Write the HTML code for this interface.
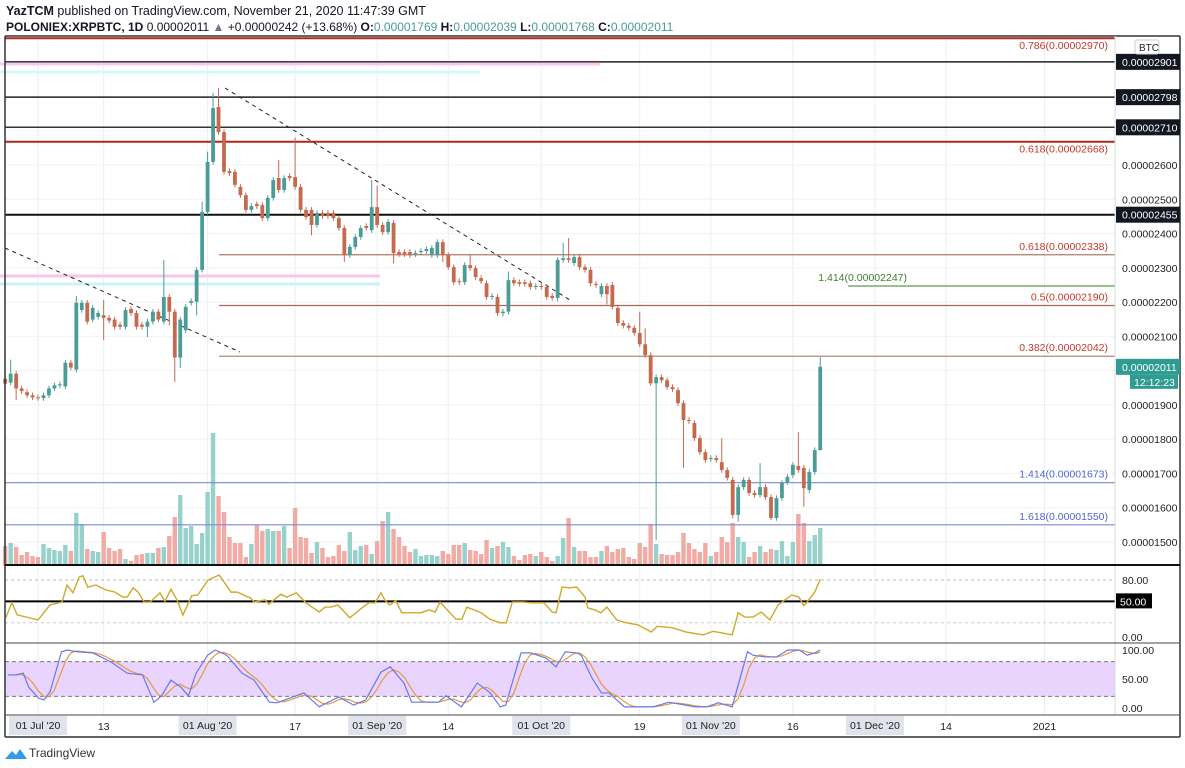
<!DOCTYPE html>
<html><head><meta charset="utf-8">
<style>
html,body{margin:0;padding:0;background:#fff;}
body{width:1185px;height:768px;overflow:hidden;font-family:"Liberation Sans",sans-serif;}
svg{display:block;}
</style></head>
<body>
<svg id="chart" width="1185" height="768" xmlns="http://www.w3.org/2000/svg" font-family="Liberation Sans, sans-serif">
<text x="6" y="15" font-size="12.5" fill="#131722"><tspan font-weight="bold">YazTCM</tspan> published on TradingView.com, November 21, 2020 11:47:39 GMT</text>
<text x="6" y="31" font-size="12" fill="#131722"><tspan font-weight="bold">POLONIEX:XRPBTC, 1D</tspan> 0.00002011 <tspan fill="#6c7889">▲</tspan> +0.00000242 (+13.68%) <tspan font-weight="bold">O:</tspan><tspan fill="#4c9a9a">0.00001769</tspan> <tspan font-weight="bold">H:</tspan><tspan fill="#4c9a9a">0.00002039</tspan> <tspan font-weight="bold">L:</tspan><tspan fill="#4c9a9a">0.00001768</tspan> <tspan font-weight="bold">C:</tspan><tspan fill="#4c9a9a">0.00002011</tspan></text>
<g id="grid"></g>
<g id="vol"></g>
<g id="levels"></g>
<g id="candles"></g>
<g id="ind"></g>
<g id="axes"></g>
<g>
<path d="M5 759 L12 751 L16 755 L20 749 L27 759 Z" fill="#2f9bea"/>
<text x="29" y="757" font-size="12" fill="#333">TradingView</text>
</g>
</svg>
<script>
// ---- data (prices in 1e-8 BTC) ----
const opens=[1976,1965,1991,1948,1937,1928,1922,1920,1928,1948,1957,1954,2023,2003,2177,
2198,2149,2157,2162,2154,2149,2134,2128,2180,2168,2134,2128,2143,2172,2143,
2215,2172,2038,2118,2198,2201,2294,2463,2609,2769,2696,2582,2580,2536,2512,
2469,2486,2483,2445,2504,2562,2527,2568,2565,2536,2469,2469,2425,2460,2460,
2460,2445,2416,2337,2361,2390,2422,2410,2477,2425,2404,2431,2346,2346,2346,
2340,2346,2349,2337,2337,2375,2337,2302,2261,2258,2308,2299,2270,2255,2215,
2215,2168,2172,2264,2258,2258,2255,2244,2247,2244,2218,2212,2323,2328,2314,
2331,2302,2294,2253,2223,2247,2250,2183,2139,2131,2125,2110,2077,2045,1963,
1981,1972,1952,1943,1905,1856,1847,1803,1762,1742,1745,1733,1710,1681,1579,
1660,1681,1643,1637,1660,1631,1570,1628,1675,1695,1722,1716,1652,1704,1768];
const closes=[1962,1991,1948,1940,1928,1922,1920,1928,1948,1957,1960,2023,2009,2198,2198,
2143,2183,2168,2154,2146,2128,2128,2177,2168,2128,2128,2143,2172,2149,2215,
2172,2038,2149,2186,2203,2294,2463,2609,2766,2696,2580,2576,2542,2512,2469,
2480,2480,2445,2504,2556,2527,2562,2562,2536,2469,2448,2425,2460,2451,2451,
2445,2416,2337,2361,2390,2416,2416,2477,2425,2404,2434,2343,2340,2340,2337,
2343,2349,2355,2358,2375,2337,2302,2258,2258,2308,2299,2273,2261,2215,2218,
2168,2172,2264,2255,2253,2253,2244,2247,2244,2215,2212,2323,2328,2323,2331,
2302,2294,2255,2250,2247,2223,2186,2139,2131,2125,2110,2077,2045,1963,1981,
1972,1952,1946,1905,1856,1853,1803,1762,1739,1745,1739,1710,1687,1579,1660,
1681,1643,1637,1660,1631,1570,1628,1672,1690,1725,1710,1657,1704,1768,2011];
const upperWicks=[8,41,8,8,8,8,8,8,8,8,8,8,8,20,8,
8,8,8,44,8,8,8,8,8,8,8,8,8,8,108,
8,8,8,8,8,8,30,30,44,56,8,8,8,8,8,
8,8,8,8,8,53,8,8,115,8,8,8,8,8,8,
8,8,8,8,8,8,8,79,63,8,8,8,8,8,8,
8,8,8,8,8,8,8,8,8,8,30,8,8,8,8,
8,8,25,8,8,8,8,8,8,8,8,8,45,59,8,
8,8,8,8,8,8,8,8,8,8,8,62,46,8,8,
8,8,8,8,8,8,8,8,8,8,8,70,8,8,8,
8,8,8,70,8,8,8,8,8,8,99,8,8,8,28];
const lowerWicks=[8,8,34,8,8,8,8,8,8,8,8,8,8,8,8,
8,8,8,65,8,8,8,8,8,8,8,30,8,8,8,
40,71,30,8,8,40,8,8,8,8,8,8,8,8,8,
8,8,8,8,8,8,8,8,8,8,8,30,8,8,8,
8,8,20,8,8,8,8,8,8,8,8,30,8,8,8,
8,8,8,8,8,20,8,8,8,8,8,8,8,8,8,
8,10,8,8,8,8,8,8,8,8,8,10,8,8,8,
8,8,8,8,8,30,8,8,8,8,8,8,8,8,457,
8,8,8,8,140,8,8,8,8,8,8,8,8,10,20,
8,8,8,8,8,6,8,8,8,8,8,54,9,8,1];
const volumes=[20,23,19,11,14,10,9,22,18,16,15,21,15,53,42,17,15,14,34,18,
15,17,7,5,11,12,13,13,18,19,30,49,71,38,40,22,33,74,133,70,
54,29,23,23,9,22,41,35,37,35,35,40,18,58,29,28,13,24,18,9,
10,21,15,34,16,20,21,12,25,45,54,37,29,20,14,17,
10,11,11,10,15,12,21,21,23,16,15,12,26,18,20,24,19,10,6,11,
12,10,14,9,5,10,28,48,19,15,15,9,9,15,20,14,17,18,9,7,
23,19,42,22,12,11,11,14,33,23,17,14,23,10,14,29,24,43,29,24,
9,14,20,14,17,16,25,10,24,52,43,25,31,38];
const rsiDays=[0.1,1.2,2.2,6,8.2,10.4,11.3,12.4,13.5,14.2,15.1,16.6,18.4,20.1,21.5,22.3,23.4,24.3,25.4,26.5,
28.3,29.2,30.3,31.4,32.5,34.1,35.2,37.1,39.1,41.3,42.4,44.8,45.5,47.5,48.2,50.4,51.5,53.2,55,57.4,
58.5,59.6,60.8,63,65.4,66.5,67.6,68.7,69.4,70.3,71.4,72.5,76,77.5,78.6,79.5,82.4,83.5,84.4,87,
88.6,90.5,91.6,92.7,94.7,96.1,98.5,100,100.7,101.8,103.1,104.5,106,
106.5,107.8,108.9,110,111.8,113.5,115.7,118.1,119.2,121.9,124.5,127.6,129.4,132.9,134,135.2,136.7,138.2,139.8,141.3,143.8,145.1,146,146.6,148,149];
const rsiVals=[27,48,31,24,45,49,73,62,84,86,70,73,66,63,56,56,69,63,49,49,
62,50,67,52,31,58,59,80,87,63,63,55,49,52,46,60,56,62,48,35,
42,42,45,27,42,48,48,62,52,45,51,34,34,38,35,49,25,25,42,34,
25,20,20,49,49,48,48,35,34,70,69,70,56,
41,38,34,42,24,20,17,7,15,13,7,3,8,3,34,28,28,35,24,45,59,56,44,49,63,81];
const stochDays=[0.5,1.9,3.3,4.3,6.1,7.1,8.2,10.3,11.4,13.1,16,19.4,22.3,25.1,27.2,28.6,30.3,32.1,33.5,34.9,
37,38.4,40.5,43.3,45.5,48.3,49.7,54.6,57.4,61,63.7,65.9,68.7,70.4,72.9,74.3,79.2,80.6,83.4,86.3,
88.7,90.5,91.5,94.3,96.1,98.9,100.7,102.4,104.5,105.3,107.2,109,110.4,111.8,113.2,118.5,121.3,126.2,128.3,130.4,
132.9,135.7,136.7,138.9,141,143.1,145.2,146.6,148,149];
const stochK=[57,57,60,36,17,14,28,97,100,97,95,79,60,57,10,21,48,36,21,60,
91,100,91,60,48,10,9,26,2,19,5,14,62,71,43,10,10,21,2,43,
26,2,5,95,95,86,71,97,95,91,53,26,26,14,2,2,10,2,2,9,
2,97,91,88,88,100,100,91,95,100];
const priceTicks=[2600,2500,2400,2300,2200,2100,1900,1800,1700,1600,1500];
const timeTickDays=[6,18,37,53,68,81,98,116,129,144,159,172,190];
const timeTickLabels=["01 Jul '20","13","01 Aug '20","17","01 Sep '20","14","01 Oct '20","19","01 Nov '20","16","01 Dec '20","14","2021"];
const timeTickBoxed=[1,0,1,0,1,0,1,0,1,0,1,0,0];
const levelPrices=[2970,2901,2798,2710,2668,2455,2338,2247,2190,2042,1673,1550];
const levelLabels=["0.786(0.00002970)","","","","0.618(0.00002668)","","0.618(0.00002338)","1.414(0.00002247)","0.5(0.00002190)","0.382(0.00002042)","1.414(0.00001673)","1.618(0.00001550)"];
const levelBoxed=[0,1,1,1,0,1,0,0,0,0,0,0];
const levelLabelBelow=[1,0,0,0,1,0,0,0,0,0,0,0];

// ---- scales ----
const NS="http://www.w3.org/2000/svg";
const xD=d=>5.2+d*5.47;
const yP=p=>165+(2600-p)*0.3427;
const yV=v=>566-v;
const yR=v=>637-v*0.7125;
const yS=v=>708-v*0.58;
const fmt=p=>"0.0000"+String(Math.round(p)).padStart(4,"0");
function mk(tag,attrs,parent,text){const e=document.createElementNS(NS,tag);for(const k in attrs)e.setAttribute(k,attrs[k]);if(text!==undefined)e.textContent=text;parent.appendChild(e);return e;}
const G=id=>document.getElementById(id);

// grid
const grid=G('grid');
for(let p=1500;p<=2900;p+=100){const l=mk('line',{x1:5,x2:1115,y1:yP(p),y2:yP(p),stroke:'#f0f2f6','stroke-width':1},grid);

}
timeTickDays.forEach(d=>{const l=mk('line',{x1:xD(d),x2:xD(d),y1:36,y2:715,stroke:'#eceef2','stroke-width':1},grid);

});
const band=mk('rect',{x:5,y:yS(80),width:1110,height:yS(20)-yS(80),fill:'#e8d4fc'},grid);



// volume
const vg=G('vol');
volumes.forEach((v,i)=>{const up=closes[i]>=opens[i];
const r=mk('rect',{x:xD(i)-2.2,y:yV(v),width:4.4,height:v,fill:up?'#97d1cb':'#f2aaa4'},vg);

});

// level lines
const lg=G('levels');
const levelColor=["#b3261e","#222","#222","#333","#b3261e","#111","#b07a6a","#5b9a4e","#a86a58","#b58a7a","#7d88d8","#7d88d8"];
const levelX1=[5,5,5,5,5,5,219,848,219,219,5,5];
const levelW=[2,1.5,1.5,1.5,2,2,1.2,1.2,1.2,1.2,1.2,1.2];
levelPrices.forEach((p,i)=>{const y=yP(p);
const l=mk('line',{x1:levelX1[i],x2:1115,y1:y,y2:y,stroke:levelColor[i],'stroke-width':levelW[i]},lg);


if(levelLabels[i]){const lx=i===7?907:1108;const ty=levelLabelBelow[i]?y+11:y-5;
const t=mk('text',{x:lx,y:ty,'font-size':10.5,fill:(i>=10?'#5566c8':(i===7?'#3f7d33':'#c0392b')),'text-anchor':'end'},lg,levelLabels[i]);

}});
[[0,380,276,'#f7c6ee'],[0,380,284,'#c8f4f8'],[0,600,64,'#f9c9f1'],[0,480,72,'#d9f7fa']].forEach(a=>{const l=mk('line',{x1:a[0],x2:a[1],y1:a[2],y2:a[2],stroke:a[3],'stroke-width':3},lg);

});
const t1=mk('line',{x1:225,y1:88,x2:570,y2:300,stroke:'#222','stroke-width':1,'stroke-dasharray':'4,4'},lg);


const t2=mk('line',{x1:5,y1:248,x2:240,y2:352,stroke:'#222','stroke-width':1,'stroke-dasharray':'4,4'},lg);



// candles
const cg=G('candles');
opens.forEach((o,i)=>{const c=closes[i];const up=c>=o;const col=up?'#4b9c97':'#c56a4e';
const hi=Math.max(o,c)+upperWicks[i],lo=Math.min(o,c)-lowerWicks[i];const x=xD(i);
const w=mk('line',{x1:x,x2:x,y1:yP(hi),y2:yP(lo),stroke:col,'stroke-width':1},cg);


const top=yP(Math.max(o,c)),bot=yP(Math.min(o,c));
const b=mk('rect',{x:x-1.9,y:top,width:3.8,height:Math.max(1,bot-top),fill:col},cg);

});

// indicators
const ig=G('ind');
[[80,'#bbb','3,3',1],[50,'#000','',2],[20,'#ccc','3,3',1]].forEach(a=>{const l=mk('line',{x1:5,x2:1115,y1:yR(a[0]),y2:yR(a[0]),stroke:a[1],'stroke-dasharray':a[2],'stroke-width':a[3]},ig);

});
[[80,'#777'],[20,'#777']].forEach(a=>{const l=mk('line',{x1:5,x2:1115,y1:yS(a[0]),y2:yS(a[0]),stroke:a[1],'stroke-dasharray':'4,3','stroke-width':1},ig);

});
const rsiPath=mk('polyline',{points:rsiDays.map((d,i)=>xD(d)+','+yR(rsiVals[i])).join(' '),fill:'none',stroke:'#d0a82a','stroke-width':1.4},ig);


function kAt(d){if(d<=stochDays[0])return stochK[0];for(let j=1;j<stochDays.length;j++){if(d<=stochDays[j]){const t=(d-stochDays[j-1])/(stochDays[j]-stochDays[j-1]);return stochK[j-1]+t*(stochK[j]-stochK[j-1]);}}return stochK[stochK.length-1];}
const dPts=[];for(let d=1;d<=149;d++){dPts.push(xD(d)+','+yS((kAt(d)+kAt(d-1)+kAt(d-2>0?d-2:0))/3));}
const dLine=mk('polyline',{points:dPts.join(' '),fill:'none',stroke:'#e39a42','stroke-width':1.2},ig);


const kLine=mk('polyline',{points:stochDays.map((d,i)=>xD(d)+','+yS(stochK[i])).join(' '),fill:'none',stroke:'#6a78ec','stroke-width':1.2},ig);



// axes & frame
const ag=G('axes');
function line(x1,y1,x2,y2,col,w,name){const l=mk('line',{x1:x1,y1:y1,x2:x2,y2:y2,stroke:col,'stroke-width':w},ag);

}
line(5,36,1180,36,'#333',1.5,'frame-top');
line(5,36,5,737,'#333',1.5,'frame-left');
line(1180,36,1180,737,'#333',1.5,'frame-right');
line(5,737,1180,737,'#333',1.5,'frame-bottom');
line(1115,36,1115,715,'#d6d8de',1,'price-axis-border');
line(5,565,1180,565,'#111',2,'pane-separator-rsi');
line(5,643,1180,643,'#444',1,'pane-separator-stoch');
line(5,715,1180,715,'#444',1,'time-axis-border');
priceTicks.forEach(p=>{const t=mk('text',{x:1122,y:yP(p)+4,'font-size':10.5,fill:'#222'},ag,fmt(p));

});
levelPrices.forEach((p,i)=>{if(!levelBoxed[i])return;const y=yP(p);
const r=mk('rect',{x:1116,y:y-8,width:64,height:16,fill:'#131722'},ag);


const t=mk('text',{x:1122,y:y+4,'font-size':10.5,fill:'#fff'},ag,fmt(p));

});
const lastY=yP(closes[closes.length-1]);
const lb=mk('rect',{x:1116,y:lastY-8,width:64,height:16,fill:'#2f9c93'},ag);


const lt=mk('text',{x:1122,y:lastY+4,'font-size':10.5,fill:'#fff'},ag,fmt(closes[closes.length-1]));


const cb=mk('rect',{x:1130,y:lastY+8,width:48,height:14,fill:'#2f9c93'},ag);


const ct=mk('text',{x:1134,y:lastY+19,'font-size':10.5,fill:'#fff'},ag,'12:12:23');


const bb=mk('rect',{x:1135,y:40,width:24,height:14,rx:2,fill:'#fff',stroke:'#ccc'},ag);


const bt=mk('text',{x:1139,y:51,'font-size':10,fill:'#222'},ag,'BTC');


[[80,'80.00'],[0,'0.00']].forEach(a=>{const t=mk('text',{x:1122,y:yR(a[0])+4,'font-size':10.5,fill:'#222'},ag,a[1]);

});
const rb=mk('rect',{x:1116,y:yR(50)-8,width:36,height:15,fill:'#000'},ag);


const rt=mk('text',{x:1120,y:yR(50)+4,'font-size':10.5,fill:'#fff'},ag,'50.00');


[[100,'100.00'],[50,'50.00'],[0,'0.00']].forEach(a=>{const t=mk('text',{x:1122,y:yS(a[0])+4,'font-size':10.5,fill:'#222'},ag,a[1]);

});
timeTickDays.forEach((d,i)=>{const x=xD(d);
if(timeTickBoxed[i]){let bx=x-29;if(bx<7)bx=7;const r=mk('rect',{x:bx,y:716,width:58,height:19,fill:'#e0e3eb'},ag);


const t=mk('text',{x:bx+29,y:729,'font-size':10.5,fill:'#222','text-anchor':'middle'},ag,timeTickLabels[i]);

}
else{const t=mk('text',{x:x,y:730,'font-size':10.5,fill:'#222','text-anchor':'middle'},ag,timeTickLabels[i]);

}});
</script>
</body></html>
